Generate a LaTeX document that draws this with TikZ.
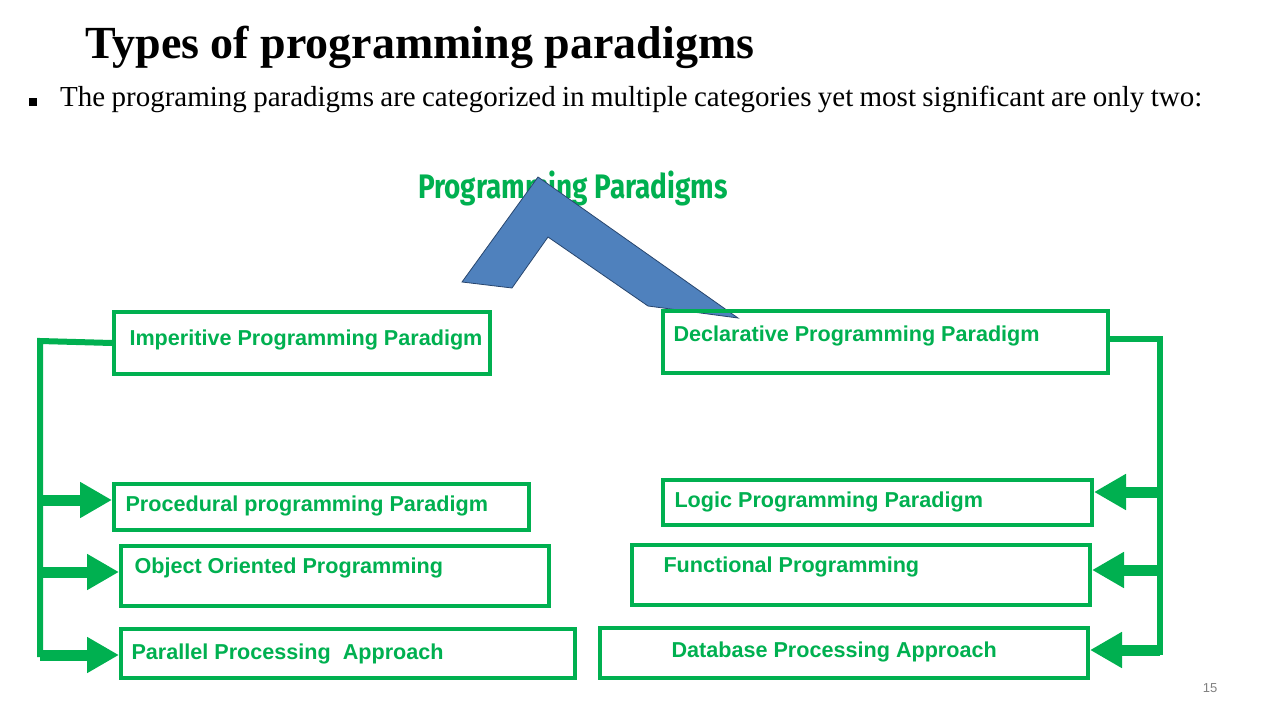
\documentclass[tikz,border=0pt]{standalone}
\usepackage{fontspec}
\setmainfont{Liberation Serif}
\newfontfamily\boxfont{Liberation Sans}
\newfontfamily\headfont{Fira Sans}
\usetikzlibrary{arrows.meta}
\definecolor{gr}{RGB}{0,176,80}
\definecolor{bl}{RGB}{79,129,189}
\definecolor{bld}{RGB}{40,70,110}
\begin{document}
\begin{tikzpicture}[x=1pt,y=-1pt,
  pbox/.style={draw=gr,line width=4pt,inner sep=0pt,anchor=north west},
  lbl/.style={text=gr,font=\boxfont\bfseries\fontsize{21.6}{24}\selectfont,anchor=west},
  fat/.style={draw=gr,line width=11pt,-{Triangle[length=32pt,width=34pt]}},
  trunk/.style={draw=gr,line width=6pt}]
\useasboundingbox (0,0) rectangle (1280,720);
\node[anchor=west,inner sep=0pt,font=\bfseries\fontsize{46}{50}\selectfont] (title) at (85,47) {Types of programming paradigms};
\node[fill=black,minimum size=8pt,inner sep=0pt] (bul) at (33,102) {};
\node[anchor=north west,align=justify,text width=1142pt,inner sep=0pt,font=\fontsize{29}{40}\selectfont] (txt) at (60,86) {The programing paradigms are categorized in multiple categories yet most significant are only two:};
\node[text=gr,font=\headfont\bfseries\fontsize{34}{36}\selectfont,xscale=0.82] (head) at (573,188) {Programming Paradigms};
\draw[fill=bl,draw=bld,line width=0.8pt] (462,282) -- (512,288) -- (548,237) -- (648,306) -- (738,318) -- (538,177) -- cycle;
% boxes
\node[pbox,minimum width=376pt,minimum height=62pt] (imp) at (112,310) {};
\node[lbl] at (126,340) {Imperitive Programming Paradigm};
\node[pbox,minimum width=445pt,minimum height=62pt] (dec) at (661,309) {};
\node[lbl] at (670,336) {Declarative Programming Paradigm};
\node[pbox,minimum width=415pt,minimum height=46pt] (proc) at (112,482) {};
\node[lbl] at (122,506) {Procedural programming Paradigm};
\node[pbox,minimum width=428pt,minimum height=60pt] (oop) at (119,544) {};
\node[lbl] at (131,568) {Object Oriented Programming};
\node[pbox,minimum width=454pt,minimum height=49pt] (par) at (119,627) {};
\node[lbl] at (128,654) {Parallel Processing\ \ Approach};
\node[pbox,minimum width=429pt,minimum height=45pt] (log) at (661,478) {};
\node[lbl] at (671,502) {Logic Programming Paradigm};
\node[pbox,minimum width=458pt,minimum height=60pt] (fun) at (630,543) {};
\node[lbl] at (660,567) {Functional Programming};
\node[pbox,minimum width=488pt,minimum height=50pt] (db) at (598,626) {};
\node[lbl] at (668,652) {Database Processing Approach};
% left trunk
\coordinate (lt) at (40,341);
\coordinate (lb) at (40,657);
\draw[trunk] (imp.west) -- (lt) -- (lb);
\draw[fat] (40,500) -- (proc.west |- 0,500);
\draw[fat] (40,572) -- (oop.west |- 0,572);
\draw[fat] (40,655) -- (par.west |- 0,655);
% right trunk
\coordinate (rt) at (1160,339);
\coordinate (rb) at (1160,655);
\draw[trunk] (dec.east |- rt) -- (rt) -- (rb);
\draw[fat] (1160,492) -- (log.east |- 0,492);
\draw[fat] (1160,570) -- (fun.east |- 0,570);
\draw[fat] (1160,650) -- (db.east |- 0,650);
\node[text=gray,font=\boxfont\fontsize{13}{13}\selectfont] (pg) at (1210,688) {15};
\end{tikzpicture}
\end{document}
